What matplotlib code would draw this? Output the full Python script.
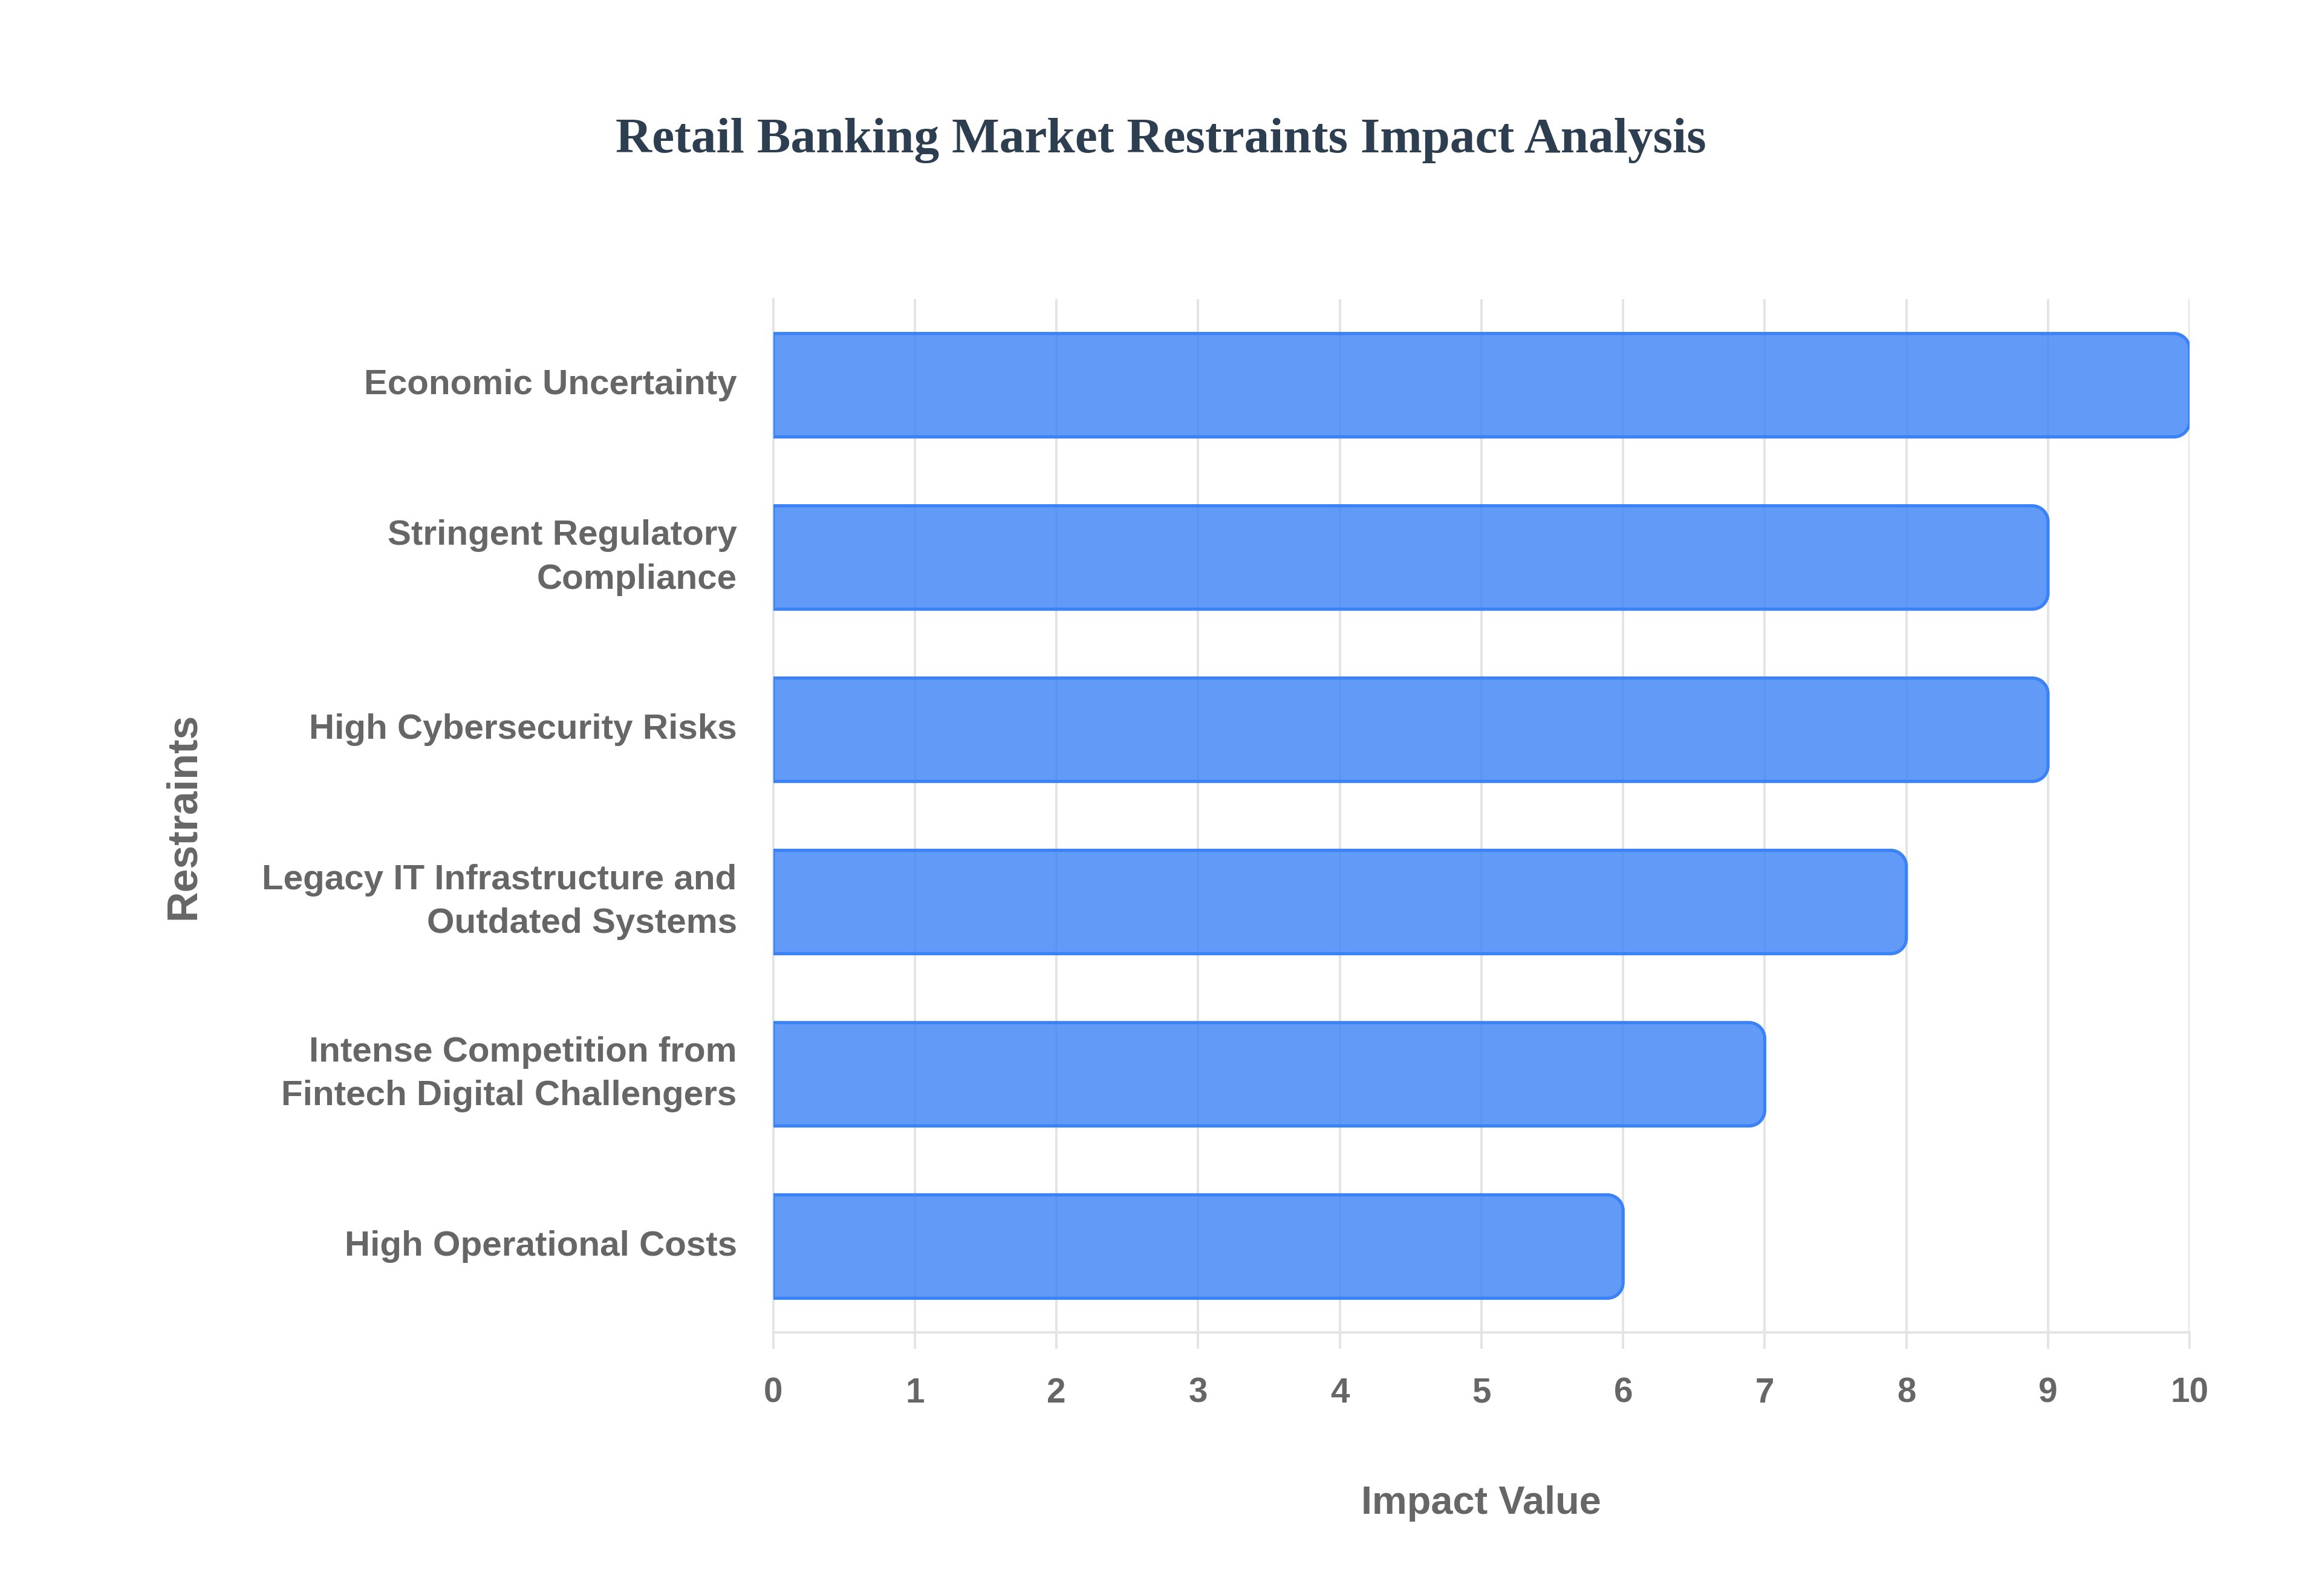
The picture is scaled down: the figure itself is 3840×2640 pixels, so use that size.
import matplotlib.pyplot as plt
from matplotlib.path import Path
from matplotlib.patches import PathPatch

# restraints, top to bottom as shown
restraints = [
    'Economic Uncertainty',
    'Stringent Regulatory\nCompliance',
    'High Cybersecurity Risks',
    'Legacy IT Infrastructure and\nOutdated Systems',
    'Intense Competition from\nFintech Digital Challengers',
    'High Operational Costs',
]
impact = [10, 9, 9, 8, 7, 6]
x_ticks = [0, 1, 2, 3, 4, 5, 6, 7, 8, 9, 10]

bar_face = (59/255, 130/255, 246/255, 0.8)
bar_edge = '#3b82f6'
grid_col = '#e4e4e4'
label_col = '#666666'

fig = plt.figure(figsize=(16, 11), dpi=240)
ax = fig.add_axes([0.333, 0.165, 0.61, 0.6476])

ax.set_xlim(0, 10)
ax.set_ylim(len(restraints) - 0.5, -0.5)

# pixels per data unit, used to keep the corner radius round
fw, fh = fig.get_size_inches() * fig.dpi
pos = ax.get_position()
px_x = fw * pos.width / 10
px_y = fh * pos.height / len(restraints)
r_px = 26
rx, ry = r_px / px_x, r_px / px_y

def rounded_bar(y, w, h=0.6):
    y0, y1 = y - h / 2, y + h / 2
    k = 0.5523
    verts = [
        (0, y0), (w - rx, y0),
        (w - rx + k * rx, y0), (w, y0 + ry - k * ry), (w, y0 + ry),
        (w, y1 - ry),
        (w, y1 - ry + k * ry), (w - rx + k * rx, y1), (w - rx, y1),
        (0, y1), (0, y0),
    ]
    codes = [Path.MOVETO, Path.LINETO,
             Path.CURVE4, Path.CURVE4, Path.CURVE4,
             Path.LINETO,
             Path.CURVE4, Path.CURVE4, Path.CURVE4,
             Path.LINETO, Path.CLOSEPOLY]
    return PathPatch(Path(verts, codes), facecolor=bar_face, edgecolor=bar_edge,
                     linewidth=1.6, zorder=3)

for i, v in enumerate(impact):
    ax.add_patch(rounded_bar(i, v))

ax.set_xticks(x_ticks)
ax.set_yticks(range(len(restraints)))
ax.set_yticklabels(restraints, fontsize=17.5, fontweight='bold', color=label_col,
                   fontfamily='Liberation Sans', linespacing=1.45, va='center')
for t in ax.get_xticklabels():
    t.set_fontsize(17)
    t.set_fontweight('bold')
    t.set_color(label_col)
    t.set_fontfamily('Liberation Sans')

ax.grid(axis='x', color=grid_col, linewidth=1.2, zorder=0)
ax.tick_params(axis='x', length=8, width=1.2, color=grid_col, pad=14)
ax.tick_params(axis='y', length=0, pad=18)
for s in ['top', 'right']:
    ax.spines[s].set_visible(False)
for s in ['left', 'bottom']:
    ax.spines[s].set_color(grid_col)
    ax.spines[s].set_linewidth(1.2)

ax.set_xlabel('Impact Value', fontsize=19.5, fontweight='bold', color=label_col,
              fontfamily='Liberation Sans')
ax.set_ylabel('Restraints', fontsize=21, fontweight='bold', color=label_col,
              fontfamily='Liberation Sans')
ax.xaxis.set_label_coords(0.5, -0.148)
ax.yaxis.set_label_coords(-0.402, 0.5)

fig.text(0.5, 0.912, 'Retail Banking Market Restraints Impact Analysis',
         ha='center', va='center', fontsize=25, fontweight='bold',
         color='#2c3e50', fontfamily='Liberation Serif')

fig.savefig('out.png', dpi=240, facecolor='white')
